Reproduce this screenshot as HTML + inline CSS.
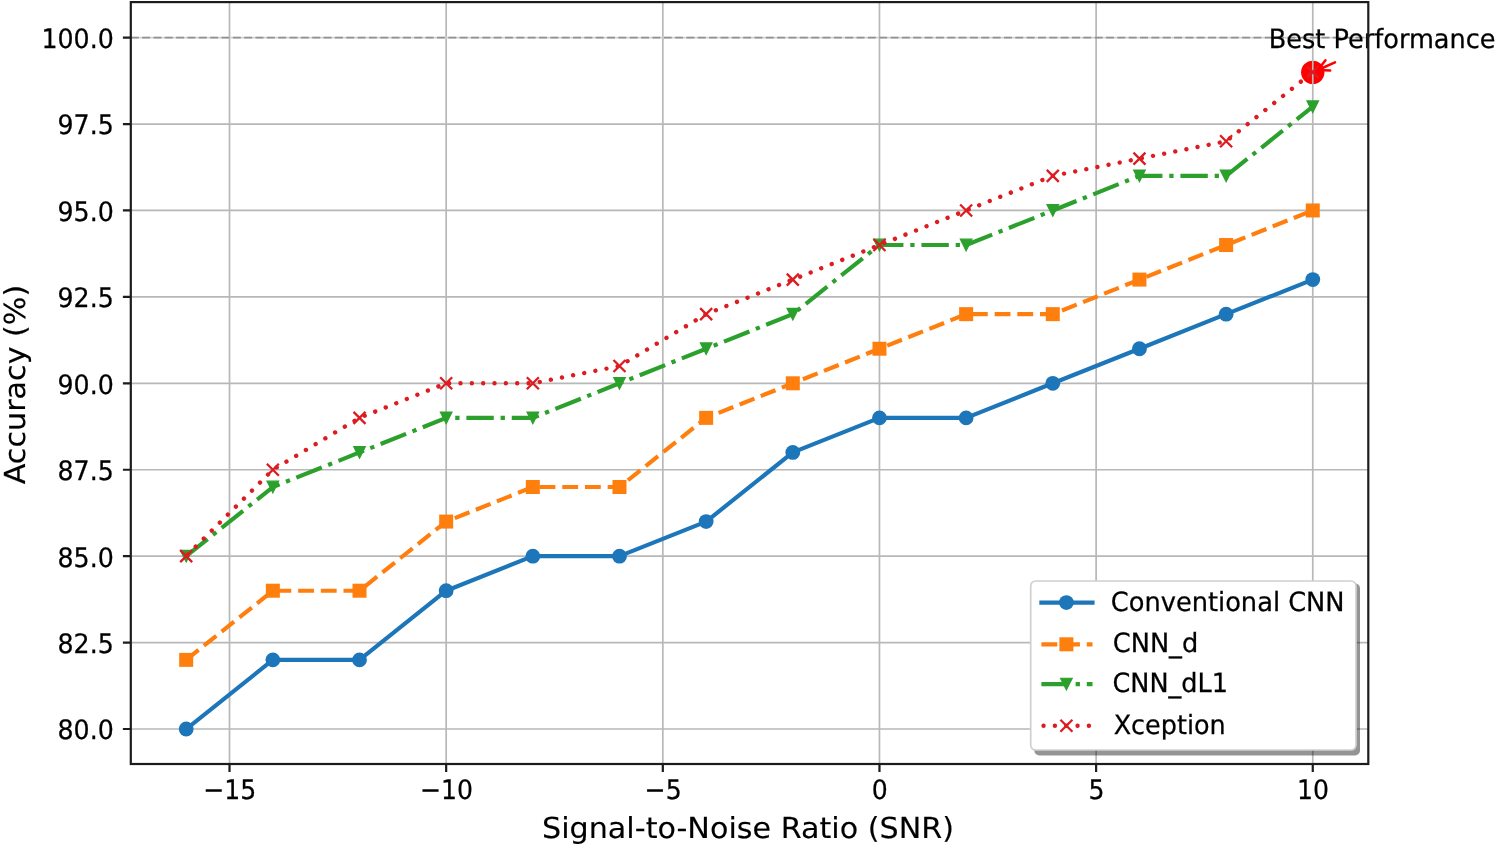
<!DOCTYPE html>
<html lang="en"><head><meta charset="utf-8"><title>Accuracy vs SNR</title>
<style>html,body{margin:0;padding:0;background:#fff}svg{display:block}</style>
</head><body>
<svg width="1497" height="846" viewBox="0 0 1497 846" font-family="'DejaVu Sans','Liberation Sans',sans-serif" fill="#000" text-rendering="geometricPrecision">
<rect width="1497" height="846" fill="#fff"/>
<clipPath id="ax"><rect x="130.8" y="2.1" width="1237.5" height="761.9"/></clipPath>
<circle cx="1312.77" cy="72.37" r="11.7" fill="#ff0000"/>
<path d="M229.52 2.1V764.0M446.17 2.1V764.0M662.82 2.1V764.0M879.47 2.1V764.0M1096.12 2.1V764.0M1312.77 2.1V764.0M130.8 729.00H1368.3M130.8 642.58H1368.3M130.8 556.15H1368.3M130.8 469.73H1368.3M130.8 383.30H1368.3M130.8 296.88H1368.3M130.8 210.45H1368.3M130.8 124.03H1368.3" stroke="#b8b8b8" stroke-width="1.7" fill="none"/>
<path d="M130.8 37.60H1368.3" stroke="#d2d2d2" stroke-width="1.6" fill="none"/>
<g clip-path="url(#ax)">
<polyline points="186.19,729.00 272.85,659.86 359.51,659.86 446.17,590.72 532.83,556.15 619.49,556.15 706.15,521.58 792.81,452.44 879.47,417.87 966.13,417.87 1052.79,383.30 1139.45,348.73 1226.11,314.16 1312.77,279.59" fill="none" stroke="#1c76b9" stroke-width="4.15" stroke-linejoin="round" stroke-linecap="square"/>
<circle cx="186.19" cy="729.00" r="7.4" fill="#1c76b9"/>
<circle cx="272.85" cy="659.86" r="7.4" fill="#1c76b9"/>
<circle cx="359.51" cy="659.86" r="7.4" fill="#1c76b9"/>
<circle cx="446.17" cy="590.72" r="7.4" fill="#1c76b9"/>
<circle cx="532.83" cy="556.15" r="7.4" fill="#1c76b9"/>
<circle cx="619.49" cy="556.15" r="7.4" fill="#1c76b9"/>
<circle cx="706.15" cy="521.58" r="7.4" fill="#1c76b9"/>
<circle cx="792.81" cy="452.44" r="7.4" fill="#1c76b9"/>
<circle cx="879.47" cy="417.87" r="7.4" fill="#1c76b9"/>
<circle cx="966.13" cy="417.87" r="7.4" fill="#1c76b9"/>
<circle cx="1052.79" cy="383.30" r="7.4" fill="#1c76b9"/>
<circle cx="1139.45" cy="348.73" r="7.4" fill="#1c76b9"/>
<circle cx="1226.11" cy="314.16" r="7.4" fill="#1c76b9"/>
<circle cx="1312.77" cy="279.59" r="7.4" fill="#1c76b9"/>
<polyline points="186.19,659.86 272.85,590.72 359.51,590.72 446.17,521.58 532.83,487.01 619.49,487.01 706.15,417.87 792.81,383.30 879.47,348.73 966.13,314.16 1052.79,314.16 1139.45,279.59 1226.11,245.02 1312.77,210.45" fill="none" stroke="#ff7f0e" stroke-width="4.15" stroke-linejoin="round" stroke-linecap="butt" stroke-dasharray="15.84,6.85"/>
<rect x="180.19" y="653.86" width="12.00" height="12.00" fill="#ff7f0e" stroke="#ff7f0e" stroke-width="2.00"/>
<rect x="266.85" y="584.72" width="12.00" height="12.00" fill="#ff7f0e" stroke="#ff7f0e" stroke-width="2.00"/>
<rect x="353.51" y="584.72" width="12.00" height="12.00" fill="#ff7f0e" stroke="#ff7f0e" stroke-width="2.00"/>
<rect x="440.17" y="515.58" width="12.00" height="12.00" fill="#ff7f0e" stroke="#ff7f0e" stroke-width="2.00"/>
<rect x="526.83" y="481.01" width="12.00" height="12.00" fill="#ff7f0e" stroke="#ff7f0e" stroke-width="2.00"/>
<rect x="613.49" y="481.01" width="12.00" height="12.00" fill="#ff7f0e" stroke="#ff7f0e" stroke-width="2.00"/>
<rect x="700.15" y="411.87" width="12.00" height="12.00" fill="#ff7f0e" stroke="#ff7f0e" stroke-width="2.00"/>
<rect x="786.81" y="377.30" width="12.00" height="12.00" fill="#ff7f0e" stroke="#ff7f0e" stroke-width="2.00"/>
<rect x="873.47" y="342.73" width="12.00" height="12.00" fill="#ff7f0e" stroke="#ff7f0e" stroke-width="2.00"/>
<rect x="960.13" y="308.16" width="12.00" height="12.00" fill="#ff7f0e" stroke="#ff7f0e" stroke-width="2.00"/>
<rect x="1046.79" y="308.16" width="12.00" height="12.00" fill="#ff7f0e" stroke="#ff7f0e" stroke-width="2.00"/>
<rect x="1133.45" y="273.59" width="12.00" height="12.00" fill="#ff7f0e" stroke="#ff7f0e" stroke-width="2.00"/>
<rect x="1220.11" y="239.02" width="12.00" height="12.00" fill="#ff7f0e" stroke="#ff7f0e" stroke-width="2.00"/>
<rect x="1306.77" y="204.45" width="12.00" height="12.00" fill="#ff7f0e" stroke="#ff7f0e" stroke-width="2.00"/>
<polyline points="186.19,556.15 272.85,487.01 359.51,452.44 446.17,417.87 532.83,417.87 619.49,383.30 706.15,348.73 792.81,314.16 879.47,245.02 966.13,245.02 1052.79,210.45 1139.45,175.88 1226.11,175.88 1312.77,106.74" fill="none" stroke="#2ca02c" stroke-width="4.15" stroke-linejoin="round" stroke-linecap="butt" stroke-dasharray="27.40,6.85,4.28,6.85"/>
<path d="M186.19 561.95L191.99 550.35L180.39 550.35Z" fill="#2ca02c" stroke="#2ca02c" stroke-width="1.2" stroke-linejoin="miter"/>
<path d="M272.85 492.81L278.65 481.21L267.05 481.21Z" fill="#2ca02c" stroke="#2ca02c" stroke-width="1.2" stroke-linejoin="miter"/>
<path d="M359.51 458.24L365.31 446.64L353.71 446.64Z" fill="#2ca02c" stroke="#2ca02c" stroke-width="1.2" stroke-linejoin="miter"/>
<path d="M446.17 423.67L451.97 412.07L440.37 412.07Z" fill="#2ca02c" stroke="#2ca02c" stroke-width="1.2" stroke-linejoin="miter"/>
<path d="M532.83 423.67L538.63 412.07L527.03 412.07Z" fill="#2ca02c" stroke="#2ca02c" stroke-width="1.2" stroke-linejoin="miter"/>
<path d="M619.49 389.10L625.29 377.50L613.69 377.50Z" fill="#2ca02c" stroke="#2ca02c" stroke-width="1.2" stroke-linejoin="miter"/>
<path d="M706.15 354.53L711.95 342.93L700.35 342.93Z" fill="#2ca02c" stroke="#2ca02c" stroke-width="1.2" stroke-linejoin="miter"/>
<path d="M792.81 319.96L798.61 308.36L787.01 308.36Z" fill="#2ca02c" stroke="#2ca02c" stroke-width="1.2" stroke-linejoin="miter"/>
<path d="M879.47 250.82L885.27 239.22L873.67 239.22Z" fill="#2ca02c" stroke="#2ca02c" stroke-width="1.2" stroke-linejoin="miter"/>
<path d="M966.13 250.82L971.93 239.22L960.33 239.22Z" fill="#2ca02c" stroke="#2ca02c" stroke-width="1.2" stroke-linejoin="miter"/>
<path d="M1052.79 216.25L1058.59 204.65L1046.99 204.65Z" fill="#2ca02c" stroke="#2ca02c" stroke-width="1.2" stroke-linejoin="miter"/>
<path d="M1139.45 181.68L1145.25 170.08L1133.65 170.08Z" fill="#2ca02c" stroke="#2ca02c" stroke-width="1.2" stroke-linejoin="miter"/>
<path d="M1226.11 181.68L1231.91 170.08L1220.31 170.08Z" fill="#2ca02c" stroke="#2ca02c" stroke-width="1.2" stroke-linejoin="miter"/>
<path d="M1312.77 112.54L1318.57 100.94L1306.97 100.94Z" fill="#2ca02c" stroke="#2ca02c" stroke-width="1.2" stroke-linejoin="miter"/>
<polyline points="186.19,556.15 272.85,469.73 359.51,417.87 446.17,383.30 532.83,383.30 619.49,366.02 706.15,314.16 792.81,279.59 879.47,245.02 966.13,210.45 1052.79,175.88 1139.45,158.59 1226.11,141.31 1312.77,72.17" fill="none" stroke="#dd1c21" stroke-width="4.40" stroke-linejoin="round" stroke-linecap="round" stroke-dasharray="0.01,11.33" stroke-dashoffset="-2.14"/>
<path d="M180.19 550.15L192.19 562.15M180.19 562.15L192.19 550.15" fill="none" stroke="#dd1c21" stroke-width="2.3"/>
<path d="M266.85 463.73L278.85 475.73M266.85 475.73L278.85 463.73" fill="none" stroke="#dd1c21" stroke-width="2.3"/>
<path d="M353.51 411.87L365.51 423.87M353.51 423.87L365.51 411.87" fill="none" stroke="#dd1c21" stroke-width="2.3"/>
<path d="M440.17 377.30L452.17 389.30M440.17 389.30L452.17 377.30" fill="none" stroke="#dd1c21" stroke-width="2.3"/>
<path d="M526.83 377.30L538.83 389.30M526.83 389.30L538.83 377.30" fill="none" stroke="#dd1c21" stroke-width="2.3"/>
<path d="M613.49 360.02L625.49 372.02M613.49 372.02L625.49 360.02" fill="none" stroke="#dd1c21" stroke-width="2.3"/>
<path d="M700.15 308.16L712.15 320.16M700.15 320.16L712.15 308.16" fill="none" stroke="#dd1c21" stroke-width="2.3"/>
<path d="M786.81 273.59L798.81 285.59M786.81 285.59L798.81 273.59" fill="none" stroke="#dd1c21" stroke-width="2.3"/>
<path d="M873.47 239.02L885.47 251.02M873.47 251.02L885.47 239.02" fill="none" stroke="#dd1c21" stroke-width="2.3"/>
<path d="M960.13 204.45L972.13 216.45M960.13 216.45L972.13 204.45" fill="none" stroke="#dd1c21" stroke-width="2.3"/>
<path d="M1046.79 169.88L1058.79 181.88M1046.79 181.88L1058.79 169.88" fill="none" stroke="#dd1c21" stroke-width="2.3"/>
<path d="M1133.45 152.59L1145.45 164.59M1133.45 164.59L1145.45 152.59" fill="none" stroke="#dd1c21" stroke-width="2.3"/>
<path d="M1220.11 135.31L1232.11 147.31M1220.11 147.31L1232.11 135.31" fill="none" stroke="#dd1c21" stroke-width="2.3"/>
<path d="M1306.77 66.17L1318.77 78.17M1306.77 78.17L1318.77 66.17" fill="none" stroke="#dd1c21" stroke-width="2.3"/>
<path d="M130.8 37.60H1368.3" stroke="#7a7a7a" stroke-opacity="0.75" stroke-width="1.7" stroke-dasharray="7.92,3.42" fill="none"/>
</g>
<path d="M1335.00 62.30L1317.85 70.01M1330.18 70.46L1317.85 70.01L1325.47 60.30" fill="none" stroke="#ff0000" stroke-width="2.5" stroke-linecap="round" stroke-linejoin="round"/>
<text transform="translate(1268.67 48.30) scale(1.0233 1.06)" font-size="25" stroke="#000" stroke-width="0.25">Best Performance</text>
<rect x="130.8" y="2.1" width="1237.5" height="761.9" fill="none" stroke="#1c1c1c" stroke-width="2.2"/>
<path d="M229.52 764.0v7.90M446.17 764.0v7.90M662.82 764.0v7.90M879.47 764.0v7.90M1096.12 764.0v7.90M1312.77 764.0v7.90M130.8 729.00h-7.90M130.8 642.58h-7.90M130.8 556.15h-7.90M130.8 469.73h-7.90M130.8 383.30h-7.90M130.8 296.88h-7.90M130.8 210.45h-7.90M130.8 124.03h-7.90M130.8 37.60h-7.90" stroke="#1c1c1c" stroke-width="2.2" fill="none"/>
<text transform="translate(229.82 799.00) scale(1.005 1.07)" font-size="25" text-anchor="middle" stroke="#000" stroke-width="0.25">−15</text>
<text transform="translate(446.47 799.00) scale(1.005 1.07)" font-size="25" text-anchor="middle" stroke="#000" stroke-width="0.25">−10</text>
<text transform="translate(663.12 799.00) scale(1.005 1.07)" font-size="25" text-anchor="middle" stroke="#000" stroke-width="0.25">−5</text>
<text transform="translate(879.77 799.00) scale(1.005 1.07)" font-size="25" text-anchor="middle" stroke="#000" stroke-width="0.25">0</text>
<text transform="translate(1096.42 799.00) scale(1.005 1.07)" font-size="25" text-anchor="middle" stroke="#000" stroke-width="0.25">5</text>
<text transform="translate(1313.07 799.00) scale(1.005 1.07)" font-size="25" text-anchor="middle" stroke="#000" stroke-width="0.25">10</text>
<text transform="translate(113.80 739.40) scale(1.011 1.07)" font-size="25" text-anchor="end" stroke="#000" stroke-width="0.25">80.0</text>
<text transform="translate(113.80 652.98) scale(1.011 1.07)" font-size="25" text-anchor="end" stroke="#000" stroke-width="0.25">82.5</text>
<text transform="translate(113.80 566.55) scale(1.011 1.07)" font-size="25" text-anchor="end" stroke="#000" stroke-width="0.25">85.0</text>
<text transform="translate(113.80 480.12) scale(1.011 1.07)" font-size="25" text-anchor="end" stroke="#000" stroke-width="0.25">87.5</text>
<text transform="translate(113.80 393.70) scale(1.011 1.07)" font-size="25" text-anchor="end" stroke="#000" stroke-width="0.25">90.0</text>
<text transform="translate(113.80 307.27) scale(1.011 1.07)" font-size="25" text-anchor="end" stroke="#000" stroke-width="0.25">92.5</text>
<text transform="translate(113.80 220.85) scale(1.011 1.07)" font-size="25" text-anchor="end" stroke="#000" stroke-width="0.25">95.0</text>
<text transform="translate(113.80 134.43) scale(1.011 1.07)" font-size="25" text-anchor="end" stroke="#000" stroke-width="0.25">97.5</text>
<text transform="translate(113.80 48.00) scale(1.011 1.07)" font-size="25" text-anchor="end" stroke="#000" stroke-width="0.25">100.0</text>
<text transform="translate(542.04 837.50) scale(1.0059 0.965)" font-size="30" stroke="#000" stroke-width="0.15">Signal-to-Noise Ratio (SNR)</text>
<text transform="translate(24.9 484.30) rotate(-90) scale(1.0061 0.965)" font-size="30" stroke="#000" stroke-width="0.15">Accuracy (%)</text>
<rect x="1034.30" y="583.40" width="325.70" height="172.00" rx="5" fill="#000" fill-opacity="0.42"/>
<rect x="1030.70" y="581.00" width="325.30" height="169.00" rx="5" fill="#fff" stroke="#d0d0d0" stroke-width="1.7"/>
<path d="M1041.4 602.60H1092.5" fill="none" stroke="#1c76b9" stroke-width="4.15" stroke-linecap="square"/>
<circle cx="1066.40" cy="602.60" r="7.4" fill="#1c76b9"/>
<text transform="translate(1110.79 610.80) scale(1.0270 1.06)" font-size="25" stroke="#000" stroke-width="0.25">Conventional CNN</text>
<path d="M1041.4 644.30H1092.5" fill="none" stroke="#ff7f0e" stroke-width="4.15" stroke-linecap="butt" stroke-dasharray="15.84,6.85"/>
<rect x="1060.40" y="638.30" width="12.00" height="12.00" fill="#ff7f0e" stroke="#ff7f0e" stroke-width="2.00"/>
<text transform="translate(1112.79 652.00) scale(1.0261 1.06)" font-size="25" stroke="#000" stroke-width="0.25">CNN_d</text>
<path d="M1041.4 684.05H1092.5" fill="none" stroke="#2ca02c" stroke-width="4.15" stroke-linecap="butt" stroke-dasharray="27.40,6.85,4.28,6.85"/>
<path d="M1066.40 689.85L1072.20 678.25L1060.60 678.25Z" fill="#2ca02c" stroke="#2ca02c" stroke-width="1.2" stroke-linejoin="miter"/>
<text transform="translate(1112.50 692.00) scale(1.0213 1.06)" font-size="25" stroke="#000" stroke-width="0.25">CNN_dL1</text>
<path d="M1041.4 725.80H1092.5" fill="none" stroke="#dd1c21" stroke-width="4.40" stroke-linecap="round" stroke-dasharray="0.01,11.33" stroke-dashoffset="-2.14"/>
<path d="M1060.40 719.80L1072.40 731.80M1060.40 731.80L1072.40 719.80" fill="none" stroke="#dd1c21" stroke-width="2.3"/>
<text transform="translate(1113.64 733.70) scale(1.0184 1.06)" font-size="25" stroke="#000" stroke-width="0.25">Xception</text>
</svg>
</body></html>
